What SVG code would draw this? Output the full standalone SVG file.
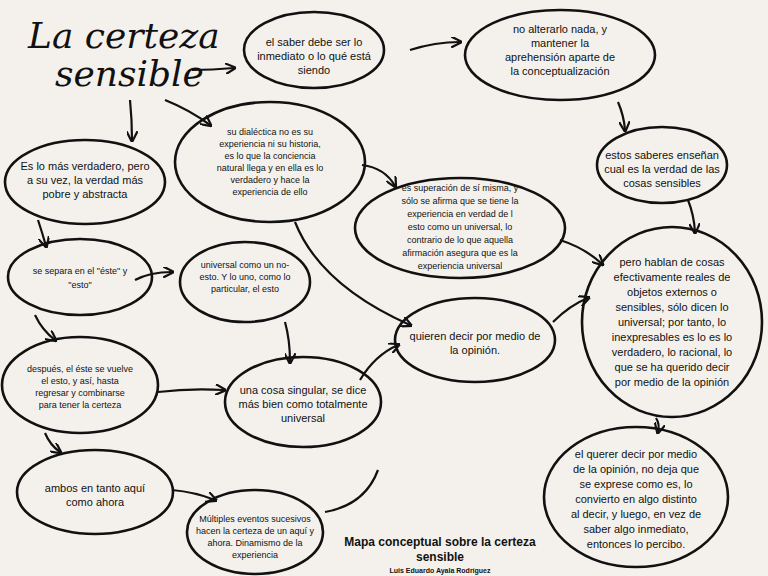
<svg xmlns="http://www.w3.org/2000/svg" width="768" height="576" viewBox="0 0 768 576">
<defs>
<marker id="ah" viewBox="0 0 10 10" refX="8" refY="5" markerWidth="5" markerHeight="5" orient="auto"><path d="M0,0 L10,5 L0,10" fill="none" stroke="#111" stroke-width="2"/></marker>
<style>
.n{fill:none;stroke:#111;stroke-width:2.6}
.t{font-family:"Liberation Sans",Arial,sans-serif;font-size:11px;fill:#111;text-anchor:middle}
.s{font-size:9px}
.c path{fill:none;stroke:#111;stroke-width:2.2;marker-end:url(#ah)}
</style>
</defs>
<rect width="768" height="576" fill="#f4f1ec"/>
<g id="title" font-family="DejaVu Serif,serif" font-style="italic" font-size="36" fill="#111">
<text x="28" y="48">La certeza</text>
<text x="55" y="86">sensible</text>
</g>
<g id="n1"><ellipse class="n" cx="314" cy="50" rx="70" ry="38"/><text class="t" x="314" y="46">el saber debe ser lo</text><text class="t" x="314" y="60">inmediato o lo qué está</text><text class="t" x="314" y="74">siendo</text></g>
<g id="n2"><ellipse class="n" cx="560" cy="55" rx="95" ry="45"/><text class="t" x="560" y="33">no alterarlo nada, y</text><text class="t" x="560" y="47">mantener la</text><text class="t" x="560" y="61">aprehensión aparte de</text><text class="t" x="560" y="75">la conceptualización</text></g>
<g id="n3"><ellipse class="n" cx="85" cy="182" rx="80" ry="42"/><text class="t" x="85" y="170">Es lo más verdadero, pero</text><text class="t" x="85" y="184">a su vez, la verdad más</text><text class="t" x="85" y="198">pobre y abstracta</text></g>
<g id="n4"><ellipse class="n" cx="270" cy="162" rx="95" ry="60"/><text class="t s" x="270" y="135">su dialéctica no es su</text><text class="t s" x="270" y="147">experiencia ni su historia,</text><text class="t s" x="270" y="159">es lo que la conciencia</text><text class="t s" x="270" y="171">natural llega y en ella es lo</text><text class="t s" x="270" y="183">verdadero y hace la</text><text class="t s" x="270" y="195">experiencia de ello</text></g>
<g id="n5"><ellipse class="n" cx="460" cy="228" rx="105" ry="50"/><text class="t s" x="460" y="191">es superación de sí misma, y</text><text class="t s" x="460" y="204">sólo se afirma que se tiene la</text><text class="t s" x="460" y="217">experiencia en verdad de l</text><text class="t s" x="460" y="230">esto como un universal, lo</text><text class="t s" x="460" y="243">contrario de lo que aquella</text><text class="t s" x="460" y="256">afirmación asegura que es la</text><text class="t s" x="460" y="269">experiencia universal</text></g>
<g id="n6"><ellipse class="n" cx="662" cy="165" rx="65" ry="38"/><text class="t" x="662" y="159">estos saberes enseñan</text><text class="t" x="662" y="173">cual es la verdad de las</text><text class="t" x="662" y="187">cosas sensibles</text></g>
<g id="n7"><ellipse class="n" cx="80" cy="277" rx="72" ry="38"/><text class="t s" x="80" y="274">se separa en el "éste" y</text><text class="t s" x="80" y="288">"esto"</text></g>
<g id="n8"><ellipse class="n" cx="245" cy="282" rx="65" ry="40"/><text class="t s" x="245" y="268">universal como un no-</text><text class="t s" x="245" y="280">esto. Y lo uno, como lo</text><text class="t s" x="245" y="292">particular, el esto</text></g>
<g id="n9"><ellipse class="n" cx="475" cy="340" rx="80" ry="42"/><text class="t" x="475" y="340">quieren decir por medio de</text><text class="t" x="475" y="354">la opinión.</text></g>
<g id="n10"><ellipse class="n" cx="672" cy="322" rx="90" ry="95"/><text class="t" x="672" y="266">pero hablan de cosas</text><text class="t" x="672" y="281">efectivamente reales de</text><text class="t" x="672" y="296">objetos externos o</text><text class="t" x="672" y="311">sensibles, sólo dicen lo</text><text class="t" x="672" y="326">universal; por tanto, lo</text><text class="t" x="672" y="341">inexpresables es lo es lo</text><text class="t" x="672" y="356">verdadero, lo racional, lo</text><text class="t" x="672" y="371">que se ha querido decir</text><text class="t" x="672" y="386">por medio de la opinión</text></g>
<g id="n11"><ellipse class="n" cx="80" cy="385" rx="78" ry="48"/><text class="t s" x="80" y="372">después, el éste se vuelve</text><text class="t s" x="80" y="384">el esto, y así, hasta</text><text class="t s" x="80" y="396">regresar y combinarse</text><text class="t s" x="80" y="408">para tener la certeza</text></g>
<g id="n12"><ellipse class="n" cx="303" cy="402" rx="78" ry="45"/><text class="t" x="303" y="394">una cosa singular, se dice</text><text class="t" x="303" y="408">más bien como totalmente</text><text class="t" x="303" y="422">universal</text></g>
<g id="n13"><ellipse class="n" cx="95" cy="492" rx="78" ry="42"/><text class="t" x="95" y="492">ambos en tanto aquí</text><text class="t" x="95" y="506">como ahora</text></g>
<g id="n14"><ellipse class="n" cx="255" cy="532" rx="68" ry="42"/><text class="t s" x="255" y="522">Múltiples eventos sucesivos</text><text class="t s" x="255" y="534">hacen la certeza de un aquí y</text><text class="t s" x="255" y="546">ahora. Dinamismo de la</text><text class="t s" x="255" y="558">experiencia</text></g>
<g id="n15"><ellipse class="n" cx="636" cy="497" rx="92" ry="70"/><text class="t" x="636" y="458">el querer decir por medio</text><text class="t" x="636" y="473">de la opinión, no deja que</text><text class="t" x="636" y="488">se exprese como es, lo</text><text class="t" x="636" y="503">convierto en algo distinto</text><text class="t" x="636" y="518">al decir, y luego, en vez de</text><text class="t" x="636" y="533">saber algo inmediato,</text><text class="t" x="636" y="548">entonces lo percibo.</text></g>
<g id="caption" font-family="Liberation Sans,Arial,sans-serif" font-weight="bold" fill="#111" text-anchor="middle">
<text x="440" y="546" font-size="12">Mapa conceptual sobre la certeza</text>
<text x="440" y="561" font-size="12">sensible</text>
<text x="440" y="573" font-size="7">Luis Eduardo Ayala Rodríguez</text>
</g>
<g id="connectors" class="c">
<path d="M192,70 Q212,70 234,68"/>
<path d="M410,50 Q435,42 460,42"/>
<path d="M618,102 Q624,116 625,130"/>
<path d="M688,200 Q694,215 695,232"/>
<path d="M130,100 Q132,120 132,140"/>
<path d="M165,100 Q190,110 210,125"/>
<path d="M362,165 Q385,168 395,186"/>
<path d="M38,220 Q42,232 46,246"/>
<path d="M35,315 Q42,330 55,340"/>
<path d="M135,280 Q150,272 172,272"/>
<path d="M285,322 Q290,340 290,362"/>
<path d="M158,392 Q190,388 224,390"/>
<path d="M45,433 Q50,445 60,452"/>
<path d="M172,490 Q195,492 215,500"/>
<path d="M325,512 Q365,505 378,470" style="marker-end:none"/>
<path d="M360,380 Q375,355 398,345"/>
<path d="M295,222 Q320,285 410,325"/>
<path d="M560,240 Q585,248 602,264"/>
<path d="M553,322 Q570,305 588,298"/>
<path d="M656,418 Q660,424 658,432"/>
</g>
</svg>
